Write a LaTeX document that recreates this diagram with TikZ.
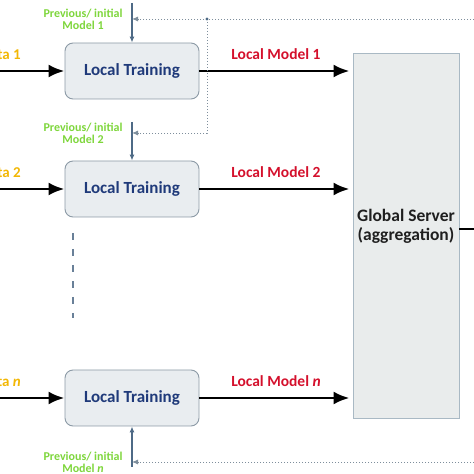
\documentclass[tikz,border=0pt]{standalone}
\usepackage{fontspec}
\setmainfont{Carlito}
\usetikzlibrary{arrows.meta,positioning}
\definecolor{boxfill}{HTML}{E9EDF0}
\definecolor{boxline}{HTML}{8C9AA6}
\definecolor{navytext}{HTML}{1F3A7A}
\definecolor{modelred}{HTML}{D4102C}
\definecolor{prevgreen}{HTML}{7ED63C}
\definecolor{datayellow}{HTML}{F2B705}
\definecolor{steel}{HTML}{4E6A86}
\definecolor{dotgrey}{HTML}{7E8E9C}
\definecolor{srvfill}{HTML}{E9ECEC}
\definecolor{srvline}{HTML}{A9B9C4}
\tikzset{
	train/.style    = {draw=boxline, fill=boxfill, rounded corners=8pt, line width=0.9pt,
		minimum width=134pt, minimum height=56pt, text=navytext,
		font=\fontsize{17}{20}\selectfont\bfseries},
	server/.style   = {draw=srvline, fill=srvfill, line width=0.9pt,
		minimum width=106pt, minimum height=365pt},
	srvtext/.style  = {align=center, text=black!88, font=\fontsize{17.5}{19}\selectfont\bfseries},
	datalbl/.style  = {anchor=east, inner sep=0pt, text=datayellow,
		font=\fontsize{15}{18}\selectfont\bfseries},
	modellbl/.style = {inner sep=0pt, text=modelred, font=\fontsize{15.5}{18}\selectfont\bfseries},
	prevlbl/.style  = {align=center, inner sep=0pt, text=prevgreen,
		font=\fontsize{12}{12}\selectfont\bfseries},
	flow/.style     = {line width=2.8pt, -{Latex[length=16pt,width=13pt]}},
	feed/.style     = {draw=steel, line width=1.1pt, -{Latex[length=6pt,width=5pt]}},
	back/.style     = {draw=dotgrey, line width=0.9pt, dash pattern=on 1pt off 2pt,
		-{Latex[length=6pt,width=5pt]}}
}

\begin{document}
\begin{tikzpicture}[x=1pt, y=1pt]
		\useasboundingbox (0,0) rectangle (474,474);
		\draw
		node at (132,403) [train] (b1) {Local Training}
		node at (132,285) [train] (b2) {Local Training}
		node at (132,76) [train] (bn) {Local Training}
		node at (406,238.5) [server] (srv) {}
		node at ([yshift=9pt]srv.center) [srvtext] (srvt) {Global Server\\(aggregation)};
		
		% inputs
		\coordinate (in1) at (0,403);
		\coordinate (in2) at (0,285);
		\coordinate (inn) at (0,76);
		\node[datalbl] (d1) at (21,419) {Data 1};
		\node[datalbl] (d2) at (21,301) {Data 2};
		\node[datalbl] (dn) at (21,92) {Data \textit{n}};
		\draw[flow](in1)--(b1.west);
		\draw[flow](in2)--(b2.west);
		\draw[flow](inn)--(bn.west);
		
		% local models
		\draw[flow, shorten >=3pt](b1.east)--node[modellbl, midway, above=10pt]{Local Model 1}(b1.east-|srv.west);
		\draw[flow, shorten >=3pt](b2.east)--node[modellbl, midway, above=10pt]{Local Model 2}(b2.east-|srv.west);
		\draw[flow, shorten >=3pt](bn.east)--node[modellbl, midway, above=10pt]{Local Model \textit{n}}(bn.east-|srv.west);
		
		% output of the server
		\coordinate (out) at (474,245);
		\draw[line width=2.4pt](out-|srv.east)--(out);
		
		% previous models
		\node[prevlbl] (p1) at (83,455) {Previous/ initial\\Model 1};
		\node[prevlbl] (p2) at (83,341) {Previous/ initial\\Model 2};
		\node[prevlbl] (pn) at (83,12) {Previous/ initial\\Model \textit{n}};
		\coordinate (t1) at (132,471);
		\coordinate (t2) at (132,352);
		\coordinate (tn) at (132,7);
		\draw[feed](t1)--(b1.north);
		\draw[feed](t2)--(b2.north);
		\draw[feed](tn)--(bn.south);
		
		\coordinate (r1) at (474,455);
		\coordinate (j1) at (207,455);
		\coordinate (k2) at (207,341);
		\coordinate (rn) at (474,12);
		\draw[back](r1)--(r1-|t1);
		\draw[back](j1)--(k2)--(k2-|t2);
		\draw[back](rn)--(rn-|tn);
		\fill[steel](j1) circle (1.7pt);
		
		% more clients
		\coordinate (m1) at (73,241);
		\coordinate (m2) at (73,156);
		\draw[steel!85, line width=2pt, dash pattern=on 7pt off 9pt](m1)--(m2);
		
	\end{tikzpicture}
\end{document}
